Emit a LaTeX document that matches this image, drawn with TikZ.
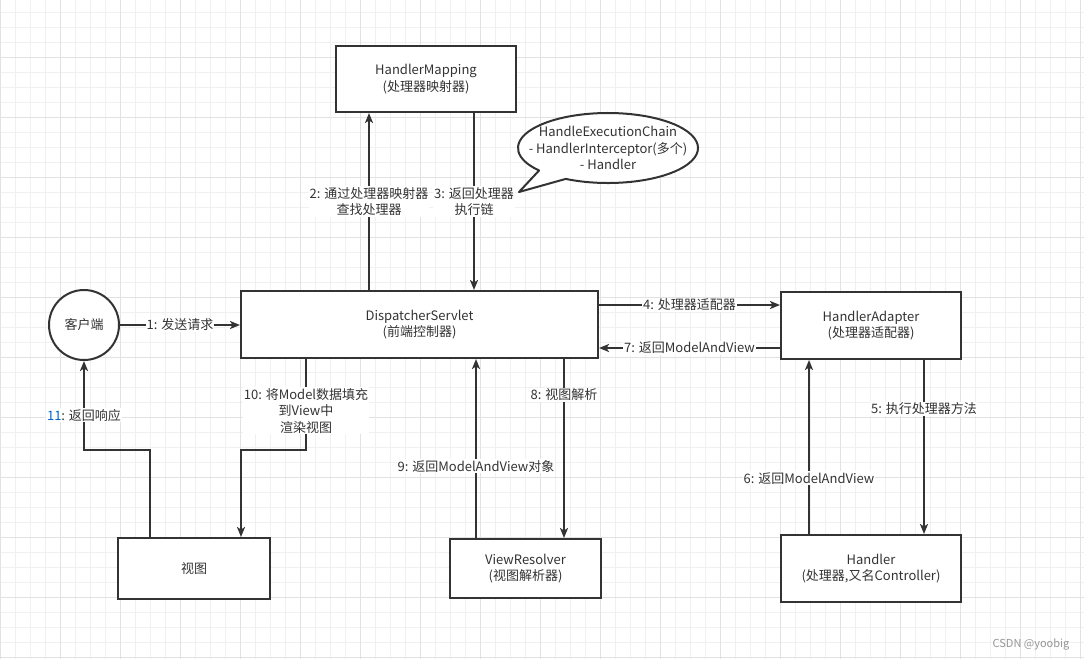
\documentclass[tikz,border=0pt]{standalone}
\usepackage{fontspec}
\setmainfont{Noto Sans CJK SC}
\usetikzlibrary{arrows.meta, positioning, shapes.geometric}
\definecolor{MvcLine}{RGB}{51, 51, 51}
\definecolor{MvcText}{RGB}{51, 51, 51}
\definecolor{MvcGrid}{RGB}{240, 240, 240}
\definecolor{MvcGridMajor}{RGB}{226, 226, 226}
\definecolor{MvcBlue}{RGB}{0, 102, 204}
\definecolor{MvcMark}{RGB}{150, 150, 150}

\begin{document}
\begin{tikzpicture}[
  x=1pt, y=-1pt,
  every node/.style={font=\fontsize{13}{16.5}\selectfont, text=MvcText},
  box/.style={draw=MvcLine, line width=2pt, fill=white, align=center,
              minimum width=180pt, minimum height=66pt},
  arr/.style={-{Stealth[length=10pt, width=8pt, inset=2.5pt]},
              line width=2pt, draw=MvcLine},
  lbl/.style={fill=white, align=center, inner sep=1pt},
  gridminor/.style={draw=MvcGrid, line width=1pt},
  gridmajor/.style={draw=MvcGridMajor, line width=1pt}
]
  \useasboundingbox (0,0) rectangle (1084,659);
  \fill[white] (0,0) rectangle (1084,659);

  % background grid
  \foreach \gx in {15,30,...,1080} \draw[gridminor] (\gx,0) -- (\gx,659);
  \foreach \gy in {12.5,27.5,...,659} \draw[gridminor] (0,\gy) -- (1084,\gy);
  \foreach \gx in {0,60,...,1080} \draw[gridmajor] (\gx,0) -- (\gx,659);
  \foreach \gy in {57.5,117.5,...,659} \draw[gridmajor] (0,\gy) -- (1084,\gy);

  % nodes
  \node[box] (hm) at (426, 79) {HandlerMapping\\(处理器映射器)};
  \node[box, minimum width=357pt, minimum height=67pt] (ds) at (419.5, 324.5)
    {DispatcherServlet\\(前端控制器)};
  \node[draw=MvcLine, line width=2pt, circle, minimum size=70pt, fill=white]
    (client) at (84, 325) {客户端};
  \node[box, minimum height=67pt] (ha) at (871, 325.5) {HandlerAdapter\\(处理器适配器)};
  \node[box, minimum height=67pt] (handler) at (871, 568.5)
    {Handler\\(处理器,又名Controller)};
  \node[box, minimum width=152pt, minimum height=61pt] (view) at (194, 568.5) {视图};
  \node[box, minimum width=151pt, minimum height=59pt] (vr) at (525.5, 568.5)
    {ViewResolver\\(视图解析器)};

  % callout
  \coordinate (chainc) at (608, 148);
  \coordinate (chaintip) at (519, 192);
  \draw[draw=MvcLine, line width=2pt, fill=white, line join=round]
    (chainc) ++(118:90 and 35)
    arc[start angle=118, end angle=-220, x radius=90, y radius=35]
    -- (chaintip) -- cycle;
  \node[align=center] (chain) at (chainc)
    {HandleExecutionChain\\- HandlerInterceptor(多个)\\- Handler};

  % columns and bends
  \coordinate (c2) at (369, 0);
  \coordinate (c3) at (474, 0);
  \coordinate (c4) at (0, 305);
  \coordinate (c7) at (0, 348);
  \coordinate (c5) at (924, 0);
  \coordinate (c6) at (809, 0);
  \coordinate (c8) at (564, 0);
  \coordinate (c9) at (476, 0);
  \coordinate (k10a) at (306, 450);
  \coordinate (k10b) at (241, 450);
  \coordinate (k11a) at (150, 450);
  \coordinate (k11b) at (84, 450);

  % connectors
  \draw[arr] (client.east) -- node[lbl] {1: 发送请求} (client.east -| ds.west);
  \draw[arr] (ds.north -| c2) -- node[lbl] {2: 通过处理器映射器\\查找处理器} (hm.south -| c2);
  \draw[arr] (hm.south -| c3) -- node[lbl] {3: 返回处理器\\执行链} (ds.north -| c3);
  \draw[arr] (ds.east |- c4) -- node[lbl] {4: 处理器适配器} (ha.west |- c4);
  \draw[arr] (ha.south -| c5) -- node[lbl, pos=0.28] {5: 执行处理器方法} (handler.north -| c5);
  \draw[arr] (handler.north -| c6) -- node[lbl, pos=0.32] {6: 返回ModelAndView} (ha.south -| c6);
  \draw[arr] (ha.west |- c7) -- node[lbl] {7: 返回ModelAndView} (ds.east |- c7);
  \draw[arr] (ds.south -| c8) -- node[lbl, pos=0.2] {8: 视图解析} (vr.north -| c8);
  \draw[arr] (vr.north -| c9) -- node[lbl, pos=0.4] {9: 返回ModelAndView对象} (ds.south -| c9);
  \draw[arr] (ds.south -| k10a) -- node[lbl, pos=0.57] {10: 将Model数据填充\\到View中\\渲染视图}
    (k10a) -- (k10b) -- (view.north -| k10b);
  \draw[arr] (view.north -| k11a) -- (k11a) -- (k11b)
    -- node[lbl, pos=0.39] {\textcolor{MvcBlue}{11}: 返回响应} (client.south);

  % watermark
  \node[font=\fontsize{11}{13}\selectfont, text=MvcMark] (mark) at (1031, 644) {CSDN @yoobig};
\end{tikzpicture}
\end{document}
